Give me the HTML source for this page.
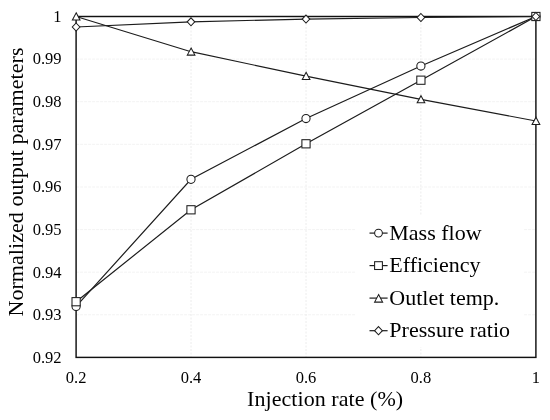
<!DOCTYPE html>
<html lang="en"><head><meta charset="utf-8"><title>Normalized output parameters vs injection rate</title>
<style>
html,body{margin:0;padding:0;background:#fff;}
body{width:550px;height:420px;overflow:hidden;}
svg{display:block;}
text{font-family:"Liberation Serif","Times New Roman",serif;fill:#000;}
.t{font-size:16.5px;}
.b{font-size:22px;}
</style></head><body>
<svg width="550" height="420" viewBox="0 0 550 420">
<rect width="550" height="420" fill="#fff"/>
<g stroke="#f3f3f3" stroke-width="1" stroke-dasharray="3 1" fill="none"><line x1="76.1" y1="59.1" x2="535.85" y2="59.1"/><line x1="76.1" y1="101.7" x2="535.85" y2="101.7"/><line x1="76.1" y1="144.3" x2="535.85" y2="144.3"/><line x1="76.1" y1="187.0" x2="535.85" y2="187.0"/><line x1="76.1" y1="229.6" x2="535.85" y2="229.6"/><line x1="76.1" y1="272.2" x2="535.85" y2="272.2"/><line x1="76.1" y1="314.8" x2="535.85" y2="314.8"/></g>
<g stroke="#ececec" stroke-width="1" stroke-dasharray="2 1.5" fill="none"><line x1="191.0" y1="16.5" x2="191.0" y2="357.4"/><line x1="306.0" y1="16.5" x2="306.0" y2="357.4"/><line x1="420.9" y1="16.5" x2="420.9" y2="357.4"/></g>
<rect x="355.5" y="215.5" width="168" height="131.5" fill="#fff"/>
<rect x="76.1" y="16.5" width="459.8" height="340.9" fill="none" stroke="#111" stroke-width="1.45"/>
<g stroke="#1c1c1c" stroke-width="1.05" fill="#fff" stroke-linejoin="miter"><polyline fill="none" stroke-width="1.2" points="76.1,306.4 191.0,179.3 306.0,118.5 420.9,66.0 535.9,16.5"/><circle cx="76.1" cy="306.4" r="4.10"/><circle cx="191.0" cy="179.3" r="4.10"/><circle cx="306.0" cy="118.5" r="4.10"/><circle cx="420.9" cy="66.0" r="4.10"/><circle cx="535.9" cy="16.5" r="4.10"/></g>
<g stroke="#1c1c1c" stroke-width="1.05" fill="#fff" stroke-linejoin="miter"><polyline fill="none" stroke-width="1.2" points="76.1,301.7 191.0,209.8 306.0,143.8 420.9,80.2 535.9,16.5"/><rect x="72.0" y="297.6" width="8.2" height="8.2"/><rect x="186.9" y="205.7" width="8.2" height="8.2"/><rect x="301.9" y="139.7" width="8.2" height="8.2"/><rect x="416.8" y="76.1" width="8.2" height="8.2"/><rect x="531.8" y="12.4" width="8.2" height="8.2"/></g>
<g stroke="#1c1c1c" stroke-width="1.05" fill="#fff" stroke-linejoin="miter"><polyline fill="none" stroke-width="1.2" points="76.1,16.5 191.0,51.7 306.0,76.1 420.9,99.4 535.9,121.0"/><path d="M76.2 12.8L80.0 19.9H72.4Z"/><path d="M191.1 48.0L194.9 55.1H187.3Z"/><path d="M306.1 72.3L309.9 79.5H302.3Z"/><path d="M421.0 95.7L424.8 102.8H417.2Z"/><path d="M536.0 117.2L539.8 124.4H532.1Z"/></g>
<g stroke="#1c1c1c" stroke-width="1.05" fill="#fff" stroke-linejoin="miter"><polyline fill="none" stroke-width="1.2" points="76.1,27.0 191.0,21.8 306.0,19.1 420.9,17.5 535.9,16.5"/><path d="M76.1 23.0L79.9 27.0L76.1 31.0L72.3 27.0Z"/><path d="M191.0 17.8L194.8 21.8L191.0 25.8L187.2 21.8Z"/><path d="M306.0 15.1L309.8 19.1L306.0 23.1L302.2 19.1Z"/><path d="M420.9 13.5L424.7 17.5L420.9 21.5L417.1 17.5Z"/><path d="M535.9 12.5L539.6 16.5L535.9 20.5L532.1 16.5Z"/></g>
<text class="t" x="61.5" y="21.8" text-anchor="end">1</text><text class="t" x="61.5" y="64.4" text-anchor="end">0.99</text><text class="t" x="61.5" y="107.0" text-anchor="end">0.98</text><text class="t" x="61.5" y="149.6" text-anchor="end">0.97</text><text class="t" x="61.5" y="192.3" text-anchor="end">0.96</text><text class="t" x="61.5" y="234.9" text-anchor="end">0.95</text><text class="t" x="61.5" y="277.5" text-anchor="end">0.94</text><text class="t" x="61.5" y="320.1" text-anchor="end">0.93</text><text class="t" x="61.5" y="362.7" text-anchor="end">0.92</text>
<text class="t" x="76.1" y="383" text-anchor="middle">0.2</text><text class="t" x="191.0" y="383" text-anchor="middle">0.4</text><text class="t" x="306.0" y="383" text-anchor="middle">0.6</text><text class="t" x="420.9" y="383" text-anchor="middle">0.8</text><text class="t" x="535.9" y="383" text-anchor="middle">1</text>
<text class="b" x="247.1" y="406.2" textLength="156">Injection rate (%)</text>
<text class="b" transform="translate(23.1,316.5) rotate(-90)" textLength="269">Normalized output parameters</text>
<g stroke="#1c1c1c" stroke-width="1.05" fill="#fff"><line x1="369.5" y1="233.1" x2="387.6" y2="233.1" stroke-width="1.2"/><circle cx="378.5" cy="233.1" r="3.89"/></g><text class="b" x="389.3" y="239.7">Mass flow</text>
<g stroke="#1c1c1c" stroke-width="1.05" fill="#fff"><line x1="369.5" y1="265.6" x2="387.6" y2="265.6" stroke-width="1.2"/><rect x="374.6" y="261.7" width="7.8" height="7.8"/></g><text class="b" x="389.3" y="272.2">Efficiency</text>
<g stroke="#1c1c1c" stroke-width="1.05" fill="#fff"><line x1="369.5" y1="298.1" x2="387.6" y2="298.1" stroke-width="1.2"/><path d="M378.6 294.6L382.6 302.1H374.6Z"/></g><text class="b" x="389.3" y="304.7">Outlet temp.</text>
<g stroke="#1c1c1c" stroke-width="1.05" fill="#fff"><line x1="369.5" y1="330.7" x2="387.6" y2="330.7" stroke-width="1.2"/><path d="M378.5 326.6L382.4 330.7L378.5 334.8L374.6 330.7Z"/></g><text class="b" x="389.3" y="337.3" textLength="120.8">Pressure ratio</text>
</svg>
</body></html>
